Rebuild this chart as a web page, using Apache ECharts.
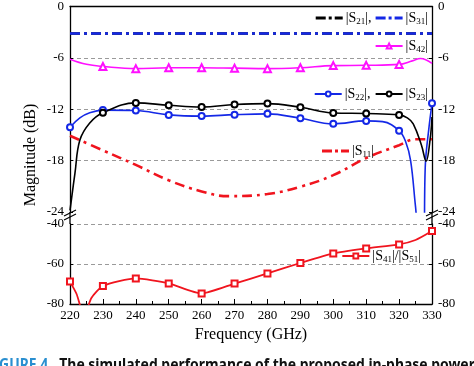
<!DOCTYPE html>
<html><head><meta charset="utf-8">
<script src="https://cdn.jsdelivr.net/npm/echarts@6/dist/echarts.min.js"></script>
<style>html,body{margin:0;padding:0;background:#fff}#c{width:474px;height:366px}</style>
</head><body><div id="c"></div>
<script>
// ---- data ----
const xMin = 220, xMax = 330, xStep = 10;
const upperRange = [-24, 0], upperStep = 6;
const lowerRange = [-80, -40], lowerStep = 20;

const s21Freq = [220, 330];
const s21Val  = [-3.15, -3.15];
const s31Freq = [220, 330];
const s31Val  = [-3.15, -3.15];

const s42Freq = [220, 225, 230, 240, 250, 260, 270, 280, 290, 300, 310, 320, 324, 326.5, 330];
const s42Val  = [-6.15, -6.75, -7.0, -7.26, -7.15, -7.15, -7.2, -7.26, -7.15, -6.9, -6.87, -6.76, -6.35, -6.08, -6.65];
const s42Marks = [230, 240, 250, 260, 270, 280, 290, 300, 310, 320];

const s22Freq = [220, 223, 226, 230, 240, 250, 260, 270, 280, 290, 300, 310, 315, 320, 322, 323.5, 325, 326.2, 327.3, 328, 329, 330];
const s22Val  = [-14.1, -13.0, -12.4, -12.1, -12.15, -12.66, -12.8, -12.63, -12.54, -13.05, -13.7, -13.36, -13.45, -14.5, -15.8, -18.0, -23.4, -27.5, -27.5, -18.3, -14.4, -11.3];
const s22Marks = [220, 230, 240, 250, 260, 270, 280, 290, 300, 310, 320, 330];

const s23Freq = [220, 221.5, 223, 226, 230, 240, 250, 260, 270, 280, 290, 300, 310, 320, 322.5, 324.3, 326.8, 328.2, 329.4, 330];
const s23Val  = [-23.8, -19.5, -15.6, -13.6, -12.4, -11.26, -11.53, -11.73, -11.45, -11.34, -11.77, -12.43, -12.5, -12.66, -13.0, -13.7, -16.2, -18.06, -15.6, -12.9];
const s23Marks = [230, 240, 250, 260, 270, 280, 290, 300, 310, 320];

const s11Freq = [220, 230, 240, 250, 260, 268, 280, 290, 300, 310, 320, 325, 330];
const s11Val  = [-15.1, -16.8, -18.5, -20.3, -21.6, -22.15, -21.9, -21.05, -19.7, -17.7, -16.2, -15.5, -15.5];

const s41Freq = [220, 222, 224.3, 226.5, 230, 240, 250, 260, 270, 280, 290, 300, 310, 320, 325, 330];
const s41Val  = [-68.8, -75, -86, -77, -71, -67.2, -69.7, -74.7, -69.8, -64.7, -59.5, -54.7, -52.2, -50.2, -48.0, -43.5];
const s41Marks = [220, 230, 240, 250, 260, 270, 280, 290, 300, 310, 320, 330];

const legendLabels = {
  S21: '|S{sub|21}|,', S31: '|S{sub|31}|', S42: '|S{sub|42}|',
  S22: '|S{sub|22}|,', S23: '|S{sub|23}|', S11: '|S{sub|11}|',
  S41: '|S{sub|41}|/|S{sub|51}|'
};

// ---- layout ----
const L = 70, R = 42, T1 = 6, H1 = 206, T2 = 224, H2 = 80;
const serif = 'Liberation Serif';
const BLUE = '#1428e6', RED = '#f0141e', MAG = '#ff10ff', BLK = '#000';
const DASHDOT_ICON = 'path://M0,0h10v3h-10zM13,0h3v3h-3zM19,0h8v3h-8z';

function pts(fx, vy, marks) {
  return fx.map((x, i) => {
    const item = { value: [x, vy[i]] };
    if (marks && marks.indexOf(x) < 0) item.symbol = 'none';
    return item;
  });
}

function yAxis(grid, range, step, side, split) {
  return {
    type: 'value', gridIndex: grid, position: side, min: range[0], max: range[1], interval: step,
    axisLine: { show: true, onZero: false, lineStyle: { color: BLK, width: 1.3 } },
    axisTick: { show: true, inside: true, length: 3, lineStyle: { color: BLK } },
    axisLabel: { color: BLK, fontSize: 13, fontFamily: serif, margin: 6 },
    splitLine: split ? { show: true, showMinLine: false, showMaxLine: grid === 1, lineStyle: { color: '#9a9a9a', type: [4, 3], width: 1 } } : { show: false }
  };
}

const legendBase = {
  orient: 'horizontal', itemWidth: 27, itemHeight: 6, itemGap: 4,
  textStyle: { color: BLK, fontSize: 14, fontFamily: serif, padding: [0, 0, 0, -2],
    rich: { sub: { fontSize: 9, fontFamily: serif, padding: [8, 0, 0, 0] } } },
  formatter: n => legendLabels[n], selectedMode: false
};

const chart = echarts.init(document.getElementById('c'));
chart.setOption({
  animation: false,
  backgroundColor: '#fff',
  grid: [
    { left: L, right: R, top: T1, height: H1 },
    { left: L, right: R, top: T2, height: H2 }
  ],
  xAxis: [
    { type: 'value', gridIndex: 0, position: 'top', min: xMin, max: xMax, interval: xStep,
      axisLine: { show: true, onZero: false, lineStyle: { color: BLK, width: 1.3 } },
      axisTick: { show: false }, axisLabel: { show: false }, splitLine: { show: false } },
    { type: 'value', gridIndex: 1, position: 'bottom', min: xMin, max: xMax, interval: xStep,
      axisLine: { show: true, onZero: false, lineStyle: { color: BLK, width: 1.3 } },
      axisTick: { show: true, inside: true, length: 5, lineStyle: { color: BLK } },
      minorTick: { show: true, splitNumber: 2, length: 3, lineStyle: { color: BLK } },
      axisLabel: { color: BLK, fontSize: 13, fontFamily: serif, margin: 5 },
      splitLine: { show: false },
      name: 'Frequency (GHz)', nameLocation: 'middle', nameGap: 23,
      nameTextStyle: { color: BLK, fontSize: 16, fontFamily: serif } }
  ],
  yAxis: [
    yAxis(0, upperRange, upperStep, 'left', true),
    yAxis(0, upperRange, upperStep, 'right', false),
    yAxis(1, lowerRange, lowerStep, 'left', true),
    yAxis(1, lowerRange, lowerStep, 'right', false)
  ],
  legend: [
    Object.assign({}, legendBase, { itemHeight: 3, data: [{ name: 'S21', icon: DASHDOT_ICON }, { name: 'S31', icon: DASHDOT_ICON }], right: 41, top: 6 }),
    Object.assign({}, legendBase, { data: ['S42'], right: 41, top: 34 }),
    Object.assign({}, legendBase, { data: ['S22', 'S23'], right: 41, top: 82 }),
    Object.assign({}, legendBase, { itemHeight: 3, data: [{ name: 'S11', icon: DASHDOT_ICON }], left: 317, top: 139 }),
    Object.assign({}, legendBase, { data: ['S41'], right: 48, top: 244 })
  ],
  series: [
    { name: 'S11', type: 'line', xAxisIndex: 0, yAxisIndex: 0, smooth: 0.4, symbol: 'none',
      data: pts(s11Freq, s11Val), itemStyle: { color: RED },
      lineStyle: { color: RED, width: 2.6, type: [10, 5, 3, 5] } },
    { name: 'S42', type: 'line', xAxisIndex: 0, yAxisIndex: 0, smooth: 0.4, symbol: 'emptyTriangle', symbolSize: 7,
      data: pts(s42Freq, s42Val, s42Marks), itemStyle: { color: MAG, borderWidth: 1.3 },
      lineStyle: { color: MAG, width: 1.6 } },
    { name: 'S22', type: 'line', xAxisIndex: 0, yAxisIndex: 0, smooth: 0.4, symbol: 'emptyCircle', symbolSize: 6,
      data: pts(s22Freq, s22Val, s22Marks), itemStyle: { color: BLUE, borderWidth: 1.3 },
      lineStyle: { color: BLUE, width: 1.6 } },
    { name: 'S23', type: 'line', xAxisIndex: 0, yAxisIndex: 0, smooth: 0.4, symbol: 'emptyCircle', symbolSize: 6,
      data: pts(s23Freq, s23Val, s23Marks), itemStyle: { color: BLK, borderWidth: 1.3 },
      lineStyle: { color: BLK, width: 1.6 } },
    { name: 'S21', type: 'line', xAxisIndex: 0, yAxisIndex: 0, symbol: 'none',
      data: pts(s21Freq, s21Val), itemStyle: { color: BLK },
      lineStyle: { color: BLK, width: 2.6, type: [10, 4, 3, 4] } },
    { name: 'S31', type: 'line', xAxisIndex: 0, yAxisIndex: 0, symbol: 'none',
      data: pts(s31Freq, s31Val), itemStyle: { color: BLUE },
      lineStyle: { color: BLUE, width: 2.6, type: [10, 4, 3, 4] } },
    { name: 'S41', type: 'line', xAxisIndex: 1, yAxisIndex: 2, smooth: 0.2, symbol: 'emptyRect', symbolSize: 6,
      data: pts(s41Freq, s41Val, s41Marks), itemStyle: { color: RED, borderWidth: 1.3 },
      lineStyle: { color: RED, width: 1.8 } }
  ],
  graphic: [
    { type: 'text', x: 31, y: (T1 + T2 + H2) / 2, rotation: Math.PI / 2,
      style: { text: 'Magnitude (dB)', fill: BLK, font: '16px "Liberation Serif"', align: 'center', verticalAlign: 'middle' } },
    // axis break connectors
    { type: 'line', shape: { x1: L, y1: T1 + H1, x2: L, y2: T2 }, style: { stroke: BLK, lineWidth: 1.3 } },
    { type: 'line', shape: { x1: 474 - R, y1: T1 + H1, x2: 474 - R, y2: T2 }, style: { stroke: BLK, lineWidth: 1.3 } },
    { type: 'line', shape: { x1: L - 6, y1: 216, x2: L + 6, y2: 210 }, style: { stroke: BLK, lineWidth: 1.2 } },
    { type: 'line', shape: { x1: L - 6, y1: 220, x2: L + 6, y2: 214 }, style: { stroke: BLK, lineWidth: 1.2 } },
    { type: 'line', shape: { x1: 474 - R - 6, y1: 216, x2: 474 - R + 6, y2: 210 }, style: { stroke: BLK, lineWidth: 1.2 } },
    { type: 'line', shape: { x1: 474 - R - 6, y1: 220, x2: 474 - R + 6, y2: 214 }, style: { stroke: BLK, lineWidth: 1.2 } },
    // caption (cut off at bottom)
    { type: 'text', x: -14, y: 357, scaleX: 0.87,
      style: { text: '{f|FIGURE 4.}  The simulated performance of the proposed in-phase power',
        fill: '#111', font: 'bold 16px "Noto Sans"', verticalAlign: 'top',
        rich: { f: { fill: '#2a8fd0', fontWeight: 'bold', fontSize: 16, fontFamily: 'Noto Sans' } } } }
  ]
});
</script>
</body></html>
